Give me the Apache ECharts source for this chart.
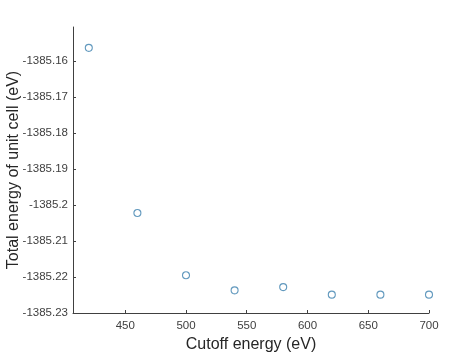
<!DOCTYPE html>
<html>
<head>
<meta charset="utf-8">
<script src="https://cdn.jsdelivr.net/npm/echarts@6/dist/echarts.min.js"></script>
<style>
html,body{margin:0;padding:0;background:#fff;}
#c{width:474px;height:355px;}
</style>
</head>
<body>
<div id="c"></div>
<script>
// Data
const cutoffEnergy = [420, 460, 500, 540, 580, 620, 660, 700];
const totalEnergy = [-1385.1563, -1385.2022, -1385.2195, -1385.2237, -1385.2228, -1385.2249, -1385.2249, -1385.2249];
const xTickLabels = ['450', '500', '550', '600', '650', '700'];
const yTickLabels = ['-1385.23', '-1385.22', '-1385.21', '-1385.2', '-1385.19', '-1385.18', '-1385.17', '-1385.16'];

const xTicks = xTickLabels.map(Number);
const yTicks = yTickLabels.map(Number);
const points = cutoffEnergy.map((x, i) => [x, totalEnergy[i]]);

const chart = echarts.init(document.getElementById('c'), null, {renderer: 'canvas'});
const font = 'Liberation Sans, Arial, Helvetica, sans-serif';
chart.setOption({
  animation: false,
  backgroundColor: '#ffffff',
  grid: {left: 73, right: 45, top: 27, bottom: 42, containLabel: false, outerBoundsMode: 'none'},
  xAxis: {
    type: 'value',
    min: 407,
    max: 700,
    name: 'Cutoff energy (eV)',
    nameLocation: 'middle',
    nameGap: 24,
    nameMoveOverlap: false,
    nameTextStyle: {fontFamily: font, fontSize: 16, color: '#262626'},
    axisLine: {show: true, onZero: false, lineStyle: {color: '#404040', width: 1}},
    axisTick: {show: true, inside: true, length: 3, customValues: xTicks, lineStyle: {color: '#404040'}},
    axisLabel: {
      customValues: xTicks,
      margin: 7,
      fontFamily: font, fontSize: 11.5, color: '#404040',
      formatter: v => xTickLabels[xTicks.indexOf(v)] ?? String(v)
    },
    splitLine: {show: false}
  },
  yAxis: {
    type: 'value',
    min: -1385.23,
    max: -1385.1505,
    name: 'Total energy of unit cell (eV)',
    nameLocation: 'middle',
    nameGap: 51,
    nameMoveOverlap: false,
    nameTextStyle: {fontFamily: font, fontSize: 16, color: '#262626'},
    axisLine: {show: true, onZero: false, lineStyle: {color: '#404040', width: 1}},
    axisTick: {show: true, inside: true, length: 3, customValues: yTicks, lineStyle: {color: '#404040'}},
    axisLabel: {
      customValues: yTicks,
      margin: 5,
      fontFamily: font, fontSize: 11.5, color: '#404040',
      formatter: v => {
        let best = 0, bd = Infinity;
        yTicks.forEach((t, i) => { const d = Math.abs(t - v); if (d < bd) { bd = d; best = i; } });
        return yTickLabels[best];
      }
    },
    splitLine: {show: false}
  },
  series: [{
    type: 'scatter',
    data: points,
    symbol: 'circle',
    symbolSize: 7,
    itemStyle: {color: 'rgba(0,0,0,0)', borderColor: '#3b7fae', borderWidth: 1.1}
  }]
});
</script>
</body>
</html>
